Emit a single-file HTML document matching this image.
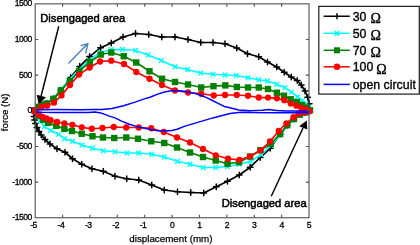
<!DOCTYPE html>
<html lang="en"><head><meta charset="utf-8"><title>force vs displacement</title>
<style>html,body{margin:0;padding:0;background:#fff;}body{width:420px;height:245px;overflow:hidden;}svg{display:block;}text{font-family:"Liberation Sans",sans-serif;fill:#000;}</style>
</head><body>
<svg width="420" height="245" viewBox="0 0 420 245">
<rect x="0" y="0" width="420" height="245" fill="#fff"/>
<g fill="none" stroke-linejoin="round" stroke-linecap="round">
<polyline points="34.50,110.30 38.70,106.90 43.00,104.80 46.80,103.60 53.40,98.90 60.90,90.40 70.60,77.60 79.70,66.40 89.60,56.60 100.60,47.70 111.25,43.00 123.00,37.00 135.50,33.50 148.75,34.50 161.75,37.00 175.00,37.00 188.00,39.50 200.75,42.50 213.00,42.50 225.00,43.75 236.75,48.00 247.50,53.75 258.75,56.75 267.50,62.00 276.75,67.00 284.25,72.25 291.25,77.00 297.25,80.50 301.30,85.00 305.00,91.00 307.70,97.30 309.20,103.70 310.00,110.30 310.00,110.60 305.50,112.40 299.80,114.50 293.90,119.00 287.20,125.20 280.10,134.20 270.20,148.30 260.20,157.50 250.20,167.20 239.25,175.00 227.50,181.25 216.25,186.75 203.75,193.00 190.75,192.50 177.50,191.75 164.25,190.00 151.75,185.00 138.75,180.00 126.75,178.75 115.00,176.25 103.25,171.25 92.00,168.75 81.75,164.25 72.50,158.75 65.00,152.25 57.00,148.75 50.00,144.00 45.00,139.50 41.25,135.00 39.00,131.50 36.90,127.40 35.50,123.50 34.60,120.00 34.00,116.40 34.50,110.60" stroke="#000" stroke-width="1.7"/>
<path d="M35.90 106.90h5.6M38.70 104.10v5.6M40.20 104.80h5.6M43.00 102.00v5.6M44.00 103.60h5.6M46.80 100.80v5.6M50.60 98.90h5.6M53.40 96.10v5.6M58.10 90.40h5.6M60.90 87.60v5.6M67.80 77.60h5.6M70.60 74.80v5.6M76.90 66.40h5.6M79.70 63.60v5.6M86.80 56.60h5.6M89.60 53.80v5.6M97.80 47.70h5.6M100.60 44.90v5.6M108.45 43.00h5.6M111.25 40.20v5.6M120.20 37.00h5.6M123.00 34.20v5.6M132.70 33.50h5.6M135.50 30.70v5.6M145.95 34.50h5.6M148.75 31.70v5.6M158.95 37.00h5.6M161.75 34.20v5.6M172.20 37.00h5.6M175.00 34.20v5.6M185.20 39.50h5.6M188.00 36.70v5.6M197.95 42.50h5.6M200.75 39.70v5.6M210.20 42.50h5.6M213.00 39.70v5.6M222.20 43.75h5.6M225.00 40.95v5.6M233.95 48.00h5.6M236.75 45.20v5.6M244.70 53.75h5.6M247.50 50.95v5.6M255.95 56.75h5.6M258.75 53.95v5.6M264.70 62.00h5.6M267.50 59.20v5.6M273.95 67.00h5.6M276.75 64.20v5.6M281.45 72.25h5.6M284.25 69.45v5.6M288.45 77.00h5.6M291.25 74.20v5.6M294.45 80.50h5.6M297.25 77.70v5.6M298.50 85.00h5.6M301.30 82.20v5.6M302.20 91.00h5.6M305.00 88.20v5.6M304.90 97.30h5.6M307.70 94.50v5.6M306.40 103.70h5.6M309.20 100.90v5.6M302.70 112.40h5.6M305.50 109.60v5.6M297.00 114.50h5.6M299.80 111.70v5.6M291.10 119.00h5.6M293.90 116.20v5.6M284.40 125.20h5.6M287.20 122.40v5.6M277.30 134.20h5.6M280.10 131.40v5.6M267.40 148.30h5.6M270.20 145.50v5.6M257.40 157.50h5.6M260.20 154.70v5.6M247.40 167.20h5.6M250.20 164.40v5.6M236.45 175.00h5.6M239.25 172.20v5.6M224.70 181.25h5.6M227.50 178.45v5.6M213.45 186.75h5.6M216.25 183.95v5.6M200.95 193.00h5.6M203.75 190.20v5.6M187.95 192.50h5.6M190.75 189.70v5.6M174.70 191.75h5.6M177.50 188.95v5.6M161.45 190.00h5.6M164.25 187.20v5.6M148.95 185.00h5.6M151.75 182.20v5.6M135.95 180.00h5.6M138.75 177.20v5.6M123.95 178.75h5.6M126.75 175.95v5.6M112.20 176.25h5.6M115.00 173.45v5.6M100.45 171.25h5.6M103.25 168.45v5.6M89.20 168.75h5.6M92.00 165.95v5.6M78.95 164.25h5.6M81.75 161.45v5.6M69.70 158.75h5.6M72.50 155.95v5.6M62.20 152.25h5.6M65.00 149.45v5.6M54.20 148.75h5.6M57.00 145.95v5.6M47.20 144.00h5.6M50.00 141.20v5.6M42.20 139.50h5.6M45.00 136.70v5.6M38.45 135.00h5.6M41.25 132.20v5.6M36.20 131.50h5.6M39.00 128.70v5.6M34.10 127.40h5.6M36.90 124.60v5.6M32.70 123.50h5.6M35.50 120.70v5.6M31.80 120.00h5.6M34.60 117.20v5.6M31.20 116.40h5.6M34.00 113.60v5.6" stroke="#000" stroke-width="1.5"/>
<polyline points="34.50,110.30 38.60,106.60 43.00,104.40 46.80,103.20 53.30,98.30 60.80,89.60 69.30,79.80 78.60,69.80 89.00,60.30 100.00,52.50 111.25,49.70 122.50,49.50 135.50,50.50 148.25,55.00 161.25,60.50 175.00,66.75 187.50,69.50 200.75,73.00 213.00,74.25 225.00,75.00 236.25,75.50 248.00,77.75 258.75,79.75 267.50,81.00 276.75,84.25 285.00,87.60 291.40,92.10 297.40,96.80 302.70,100.50 306.00,104.00 308.70,107.50 310.00,110.30 310.00,110.60 305.60,112.60 300.00,114.80 294.20,119.40 287.50,125.60 280.40,134.50 271.50,145.00 261.20,154.80 250.50,161.30 239.25,164.25 227.50,166.50 215.75,167.50 203.25,167.50 190.00,164.25 177.50,161.25 164.25,157.00 151.75,154.25 138.75,153.00 127.00,153.00 115.00,151.75 103.25,150.75 92.50,148.25 82.00,145.00 72.50,141.25 64.50,138.75 58.60,134.30 50.60,130.30 44.30,126.50 40.00,121.00 36.70,115.50 34.50,110.60" stroke="#00ffff" stroke-width="1.7"/>
<path d="M36.70 104.70l3.8 3.8M36.70 108.50l3.8 -3.8M41.10 102.50l3.8 3.8M41.10 106.30l3.8 -3.8M44.90 101.30l3.8 3.8M44.90 105.10l3.8 -3.8M51.40 96.40l3.8 3.8M51.40 100.20l3.8 -3.8M58.90 87.70l3.8 3.8M58.90 91.50l3.8 -3.8M67.40 77.90l3.8 3.8M67.40 81.70l3.8 -3.8M76.70 67.90l3.8 3.8M76.70 71.70l3.8 -3.8M87.10 58.40l3.8 3.8M87.10 62.20l3.8 -3.8M98.10 50.60l3.8 3.8M98.10 54.40l3.8 -3.8M109.35 47.80l3.8 3.8M109.35 51.60l3.8 -3.8M120.60 47.60l3.8 3.8M120.60 51.40l3.8 -3.8M133.60 48.60l3.8 3.8M133.60 52.40l3.8 -3.8M146.35 53.10l3.8 3.8M146.35 56.90l3.8 -3.8M159.35 58.60l3.8 3.8M159.35 62.40l3.8 -3.8M173.10 64.85l3.8 3.8M173.10 68.65l3.8 -3.8M185.60 67.60l3.8 3.8M185.60 71.40l3.8 -3.8M198.85 71.10l3.8 3.8M198.85 74.90l3.8 -3.8M211.10 72.35l3.8 3.8M211.10 76.15l3.8 -3.8M223.10 73.10l3.8 3.8M223.10 76.90l3.8 -3.8M234.35 73.60l3.8 3.8M234.35 77.40l3.8 -3.8M246.10 75.85l3.8 3.8M246.10 79.65l3.8 -3.8M256.85 77.85l3.8 3.8M256.85 81.65l3.8 -3.8M265.60 79.10l3.8 3.8M265.60 82.90l3.8 -3.8M274.85 82.35l3.8 3.8M274.85 86.15l3.8 -3.8M283.10 85.70l3.8 3.8M283.10 89.50l3.8 -3.8M289.50 90.20l3.8 3.8M289.50 94.00l3.8 -3.8M295.50 94.90l3.8 3.8M295.50 98.70l3.8 -3.8M300.80 98.60l3.8 3.8M300.80 102.40l3.8 -3.8M304.10 102.10l3.8 3.8M304.10 105.90l3.8 -3.8M306.80 105.60l3.8 3.8M306.80 109.40l3.8 -3.8M303.70 110.70l3.8 3.8M303.70 114.50l3.8 -3.8M298.10 112.90l3.8 3.8M298.10 116.70l3.8 -3.8M292.30 117.50l3.8 3.8M292.30 121.30l3.8 -3.8M285.60 123.70l3.8 3.8M285.60 127.50l3.8 -3.8M278.50 132.60l3.8 3.8M278.50 136.40l3.8 -3.8M269.60 143.10l3.8 3.8M269.60 146.90l3.8 -3.8M259.30 152.90l3.8 3.8M259.30 156.70l3.8 -3.8M248.60 159.40l3.8 3.8M248.60 163.20l3.8 -3.8M237.35 162.35l3.8 3.8M237.35 166.15l3.8 -3.8M225.60 164.60l3.8 3.8M225.60 168.40l3.8 -3.8M213.85 165.60l3.8 3.8M213.85 169.40l3.8 -3.8M201.35 165.60l3.8 3.8M201.35 169.40l3.8 -3.8M188.10 162.35l3.8 3.8M188.10 166.15l3.8 -3.8M175.60 159.35l3.8 3.8M175.60 163.15l3.8 -3.8M162.35 155.10l3.8 3.8M162.35 158.90l3.8 -3.8M149.85 152.35l3.8 3.8M149.85 156.15l3.8 -3.8M136.85 151.10l3.8 3.8M136.85 154.90l3.8 -3.8M125.10 151.10l3.8 3.8M125.10 154.90l3.8 -3.8M113.10 149.85l3.8 3.8M113.10 153.65l3.8 -3.8M101.35 148.85l3.8 3.8M101.35 152.65l3.8 -3.8M90.60 146.35l3.8 3.8M90.60 150.15l3.8 -3.8M80.10 143.10l3.8 3.8M80.10 146.90l3.8 -3.8M70.60 139.35l3.8 3.8M70.60 143.15l3.8 -3.8M62.60 136.85l3.8 3.8M62.60 140.65l3.8 -3.8M56.70 132.40l3.8 3.8M56.70 136.20l3.8 -3.8M48.70 128.40l3.8 3.8M48.70 132.20l3.8 -3.8M42.40 124.60l3.8 3.8M42.40 128.40l3.8 -3.8M38.10 119.10l3.8 3.8M38.10 122.90l3.8 -3.8M34.80 113.60l3.8 3.8M34.80 117.40l3.8 -3.8" stroke="#00ffff" stroke-width="1.4"/>
</g>
<polyline points="34.50,110.30 38.70,106.90 43.00,104.80 46.80,103.60 53.40,98.90 60.90,90.40 69.80,81.20 79.30,71.00 89.90,62.00 100.75,54.50 111.25,52.50 123.75,56.25 136.25,62.50 149.50,71.25 162.00,78.75 175.00,82.00 188.00,84.50 201.20,87.50 213.50,86.20 225.30,85.40 236.90,87.00 248.00,87.50 258.75,87.50 268.00,89.00 276.90,92.70 284.00,95.70 290.70,99.30 297.10,102.10 302.10,105.00 307.10,107.50 310.00,110.30 310.00,110.60 305.50,112.40 299.80,114.50 293.90,119.00 287.20,125.20 280.10,134.00 270.70,143.70 260.40,150.20 250.10,156.50 239.00,162.20 227.50,163.75 215.75,160.50 203.00,157.00 190.00,152.50 177.00,147.50 164.25,143.00 151.25,141.25 138.00,138.75 126.25,137.50 114.25,138.00 103.00,137.50 92.50,136.25 81.75,133.75 72.00,131.00 64.40,128.80 56.30,125.90 48.00,122.90 43.00,119.70 38.50,115.70 34.50,110.60" fill="none" stroke="#008000" stroke-width="1.7" stroke-linejoin="round"/>
<g fill="#008000">
<rect x="31.30" y="107.10" width="6.4" height="6.4"/>
<rect x="35.50" y="103.70" width="6.4" height="6.4"/>
<rect x="39.80" y="101.60" width="6.4" height="6.4"/>
<rect x="43.60" y="100.40" width="6.4" height="6.4"/>
<rect x="50.20" y="95.70" width="6.4" height="6.4"/>
<rect x="57.70" y="87.20" width="6.4" height="6.4"/>
<rect x="66.60" y="78.00" width="6.4" height="6.4"/>
<rect x="76.10" y="67.80" width="6.4" height="6.4"/>
<rect x="86.70" y="58.80" width="6.4" height="6.4"/>
<rect x="97.55" y="51.30" width="6.4" height="6.4"/>
<rect x="108.05" y="49.30" width="6.4" height="6.4"/>
<rect x="120.55" y="53.05" width="6.4" height="6.4"/>
<rect x="133.05" y="59.30" width="6.4" height="6.4"/>
<rect x="146.30" y="68.05" width="6.4" height="6.4"/>
<rect x="158.80" y="75.55" width="6.4" height="6.4"/>
<rect x="171.80" y="78.80" width="6.4" height="6.4"/>
<rect x="184.80" y="81.30" width="6.4" height="6.4"/>
<rect x="198.00" y="84.30" width="6.4" height="6.4"/>
<rect x="210.30" y="83.00" width="6.4" height="6.4"/>
<rect x="222.10" y="82.20" width="6.4" height="6.4"/>
<rect x="233.70" y="83.80" width="6.4" height="6.4"/>
<rect x="244.80" y="84.30" width="6.4" height="6.4"/>
<rect x="255.55" y="84.30" width="6.4" height="6.4"/>
<rect x="264.80" y="85.80" width="6.4" height="6.4"/>
<rect x="273.70" y="89.50" width="6.4" height="6.4"/>
<rect x="280.80" y="92.50" width="6.4" height="6.4"/>
<rect x="287.50" y="96.10" width="6.4" height="6.4"/>
<rect x="293.90" y="98.90" width="6.4" height="6.4"/>
<rect x="298.90" y="101.80" width="6.4" height="6.4"/>
<rect x="303.90" y="104.30" width="6.4" height="6.4"/>
<rect x="306.80" y="107.10" width="6.4" height="6.4"/>
<rect x="302.30" y="109.20" width="6.4" height="6.4"/>
<rect x="296.60" y="111.30" width="6.4" height="6.4"/>
<rect x="290.70" y="115.80" width="6.4" height="6.4"/>
<rect x="284.00" y="122.00" width="6.4" height="6.4"/>
<rect x="276.90" y="130.80" width="6.4" height="6.4"/>
<rect x="267.50" y="140.50" width="6.4" height="6.4"/>
<rect x="257.20" y="147.00" width="6.4" height="6.4"/>
<rect x="246.90" y="153.30" width="6.4" height="6.4"/>
<rect x="235.80" y="159.00" width="6.4" height="6.4"/>
<rect x="224.30" y="160.55" width="6.4" height="6.4"/>
<rect x="212.55" y="157.30" width="6.4" height="6.4"/>
<rect x="199.80" y="153.80" width="6.4" height="6.4"/>
<rect x="186.80" y="149.30" width="6.4" height="6.4"/>
<rect x="173.80" y="144.30" width="6.4" height="6.4"/>
<rect x="161.05" y="139.80" width="6.4" height="6.4"/>
<rect x="148.05" y="138.05" width="6.4" height="6.4"/>
<rect x="134.80" y="135.55" width="6.4" height="6.4"/>
<rect x="123.05" y="134.30" width="6.4" height="6.4"/>
<rect x="111.05" y="134.80" width="6.4" height="6.4"/>
<rect x="99.80" y="134.30" width="6.4" height="6.4"/>
<rect x="89.30" y="133.05" width="6.4" height="6.4"/>
<rect x="78.55" y="130.55" width="6.4" height="6.4"/>
<rect x="68.80" y="127.80" width="6.4" height="6.4"/>
<rect x="61.20" y="125.60" width="6.4" height="6.4"/>
<rect x="53.10" y="122.70" width="6.4" height="6.4"/>
<rect x="44.80" y="119.70" width="6.4" height="6.4"/>
<rect x="39.80" y="116.50" width="6.4" height="6.4"/>
<rect x="35.30" y="112.50" width="6.4" height="6.4"/>
</g>
<polyline points="34.50,110.20 41.40,107.00 47.10,105.70 54.00,102.70 61.50,95.40 70.00,85.00 79.00,74.60 89.60,67.50 100.00,61.50 111.25,60.70 124.00,64.00 136.25,72.00 149.50,78.75 162.00,85.00 175.00,90.50 188.00,92.50 201.25,93.75 213.75,95.50 225.00,95.00 236.75,95.00 248.00,95.75 258.75,97.50 268.00,97.60 276.90,98.30 284.30,100.20 290.70,103.60 296.40,105.70 301.40,107.90 305.70,109.30 309.30,111.00 309.30,111.40 304.00,112.50 298.60,113.60 293.60,117.10 286.40,123.30 278.70,131.00 270.00,141.50 260.50,150.30 250.00,156.60 239.50,159.80 228.00,158.75 215.75,155.30 203.00,149.00 190.00,142.50 177.00,137.50 163.75,132.00 151.25,128.25 138.75,127.50 126.25,127.50 113.75,127.00 102.50,128.00 91.75,128.75 81.75,127.30 72.40,124.80 64.40,123.30 57.00,122.00 50.60,120.20 46.50,118.50 42.40,116.80 38.30,114.70 34.50,111.70" fill="none" stroke="#ff0000" stroke-width="1.7" stroke-linejoin="round"/>
<g fill="#ff0000">
<circle cx="34.50" cy="110.20" r="3.15"/>
<circle cx="41.40" cy="107.00" r="3.15"/>
<circle cx="47.10" cy="105.70" r="3.15"/>
<circle cx="54.00" cy="102.70" r="3.15"/>
<circle cx="61.50" cy="95.40" r="3.15"/>
<circle cx="70.00" cy="85.00" r="3.15"/>
<circle cx="79.00" cy="74.60" r="3.15"/>
<circle cx="89.60" cy="67.50" r="3.15"/>
<circle cx="100.00" cy="61.50" r="3.15"/>
<circle cx="111.25" cy="60.70" r="3.15"/>
<circle cx="124.00" cy="64.00" r="3.15"/>
<circle cx="136.25" cy="72.00" r="3.15"/>
<circle cx="149.50" cy="78.75" r="3.15"/>
<circle cx="162.00" cy="85.00" r="3.15"/>
<circle cx="175.00" cy="90.50" r="3.15"/>
<circle cx="188.00" cy="92.50" r="3.15"/>
<circle cx="201.25" cy="93.75" r="3.15"/>
<circle cx="213.75" cy="95.50" r="3.15"/>
<circle cx="225.00" cy="95.00" r="3.15"/>
<circle cx="236.75" cy="95.00" r="3.15"/>
<circle cx="248.00" cy="95.75" r="3.15"/>
<circle cx="258.75" cy="97.50" r="3.15"/>
<circle cx="268.00" cy="97.60" r="3.15"/>
<circle cx="276.90" cy="98.30" r="3.15"/>
<circle cx="284.30" cy="100.20" r="3.15"/>
<circle cx="290.70" cy="103.60" r="3.15"/>
<circle cx="296.40" cy="105.70" r="3.15"/>
<circle cx="301.40" cy="107.90" r="3.15"/>
<circle cx="305.70" cy="109.30" r="3.15"/>
<circle cx="309.30" cy="111.00" r="3.15"/>
<circle cx="309.30" cy="111.40" r="3.15"/>
<circle cx="304.00" cy="112.50" r="3.15"/>
<circle cx="298.60" cy="113.60" r="3.15"/>
<circle cx="293.60" cy="117.10" r="3.15"/>
<circle cx="286.40" cy="123.30" r="3.15"/>
<circle cx="278.70" cy="131.00" r="3.15"/>
<circle cx="270.00" cy="141.50" r="3.15"/>
<circle cx="260.50" cy="150.30" r="3.15"/>
<circle cx="250.00" cy="156.60" r="3.15"/>
<circle cx="239.50" cy="159.80" r="3.15"/>
<circle cx="228.00" cy="158.75" r="3.15"/>
<circle cx="215.75" cy="155.30" r="3.15"/>
<circle cx="203.00" cy="149.00" r="3.15"/>
<circle cx="190.00" cy="142.50" r="3.15"/>
<circle cx="177.00" cy="137.50" r="3.15"/>
<circle cx="163.75" cy="132.00" r="3.15"/>
<circle cx="151.25" cy="128.25" r="3.15"/>
<circle cx="138.75" cy="127.50" r="3.15"/>
<circle cx="126.25" cy="127.50" r="3.15"/>
<circle cx="113.75" cy="127.00" r="3.15"/>
<circle cx="102.50" cy="128.00" r="3.15"/>
<circle cx="91.75" cy="128.75" r="3.15"/>
<circle cx="81.75" cy="127.30" r="3.15"/>
<circle cx="72.40" cy="124.80" r="3.15"/>
<circle cx="64.40" cy="123.30" r="3.15"/>
<circle cx="57.00" cy="122.00" r="3.15"/>
<circle cx="50.60" cy="120.20" r="3.15"/>
<circle cx="46.50" cy="118.50" r="3.15"/>
<circle cx="42.40" cy="116.80" r="3.15"/>
<circle cx="38.30" cy="114.70" r="3.15"/>
<circle cx="34.50" cy="111.70" r="3.15"/>
</g>
<polyline points="35.50,110.20 42.00,109.70 55.00,109.60 80.00,109.80 95.00,109.50 102.00,109.60 112.00,108.60 123.60,105.70 135.00,102.10 145.00,98.60 150.00,97.20 157.10,94.40 164.30,92.00 171.40,90.80 178.60,90.70 185.70,91.40 192.90,92.90 200.00,95.00 207.10,97.90 211.40,100.00 218.60,103.60 224.30,106.40 230.00,107.80 238.80,110.10 250.70,110.70 262.60,110.20 268.60,109.50 277.00,110.40 286.40,110.90 302.00,110.90 308.80,111.10 308.80,112.50 302.00,112.70 274.50,112.80 250.70,112.60 241.20,112.30 234.00,112.90 230.00,113.60 227.10,114.30 212.90,117.90 198.60,122.10 184.30,126.40 177.10,129.30 172.10,130.40 165.00,131.10 157.90,130.70 150.70,129.60 143.60,128.10 136.40,126.40 129.30,124.30 122.10,121.40 115.00,117.90 109.30,116.10 100.70,112.90 95.00,111.90 88.00,112.40 55.00,112.40 42.00,112.30 35.50,111.90" fill="none" stroke="#0000ff" stroke-width="1.5" stroke-linejoin="round"/>
<g fill="none" stroke="#505050" stroke-width="1.1">
<rect x="35.2" y="3.85" width="273.80" height="213.90"/>
<path d="M62.58 217.75v-3M62.58 3.85v3M89.96 217.75v-3M89.96 3.85v3M117.34 217.75v-3M117.34 3.85v3M144.72 217.75v-3M144.72 3.85v3M172.10 217.75v-3M172.10 3.85v3M199.48 217.75v-3M199.48 3.85v3M226.86 217.75v-3M226.86 3.85v3M254.24 217.75v-3M254.24 3.85v3M281.62 217.75v-3M281.62 3.85v3M35.2 39.50h3M309.0 39.50h-3M35.2 75.15h3M309.0 75.15h-3M35.2 110.80h3M309.0 110.80h-3M35.2 146.45h3M309.0 146.45h-3M35.2 182.10h3M309.0 182.10h-3"/>
</g>
<g font-size="8.6px" text-anchor="end" letter-spacing="-0.5" stroke="#000" stroke-width="0.3">
<text x="31.8" y="6.25">1500</text>
<text x="31.8" y="41.90">1000</text>
<text x="31.8" y="77.55">500</text>
<text x="31.8" y="113.20">0</text>
<text x="31.8" y="148.85">-500</text>
<text x="31.8" y="184.50">-1000</text>
<text x="31.8" y="220.15">-1500</text>
</g>
<g font-size="8.6px" text-anchor="middle" letter-spacing="-0.5" stroke="#000" stroke-width="0.3">
<text x="33.50" y="228">-5</text>
<text x="60.88" y="228">-4</text>
<text x="88.26" y="228">-3</text>
<text x="115.64" y="228">-2</text>
<text x="143.02" y="228">-1</text>
<text x="172.10" y="228">0</text>
<text x="199.48" y="228">1</text>
<text x="226.86" y="228">2</text>
<text x="254.24" y="228">3</text>
<text x="281.62" y="228">4</text>
<text x="309.00" y="228">5</text>
</g>
<text x="170.9" y="241.6" font-size="9.8px" text-anchor="middle" stroke="#000" stroke-width="0.25">displacement (mm)</text>
<text transform="translate(8.0 112.3) rotate(-90)" font-size="9.7px" text-anchor="middle" stroke="#000" stroke-width="0.25">force (N)</text>
<g font-size="11.15px" fill="#000" stroke="#000" stroke-width="0.5">
<text x="40.3" y="22">Disengaged area</text>
<text x="221.8" y="207">Disengaged area</text>
</g>
<g stroke="#000" stroke-width="1.45" fill="#000">
<line x1="58.75" y1="26.25" x2="41" y2="96.5"/>
<polygon points="38.7,104.3 36.7,94.8 46,97.3" stroke="none"/>
<line x1="271.25" y1="196.25" x2="303" y2="128"/>
<polygon points="306.7,120.4 299.2,126.3 307.3,129.6" stroke="none"/>
</g>
<g stroke="#4a7ebb" stroke-width="1.4" fill="none" stroke-linecap="round" stroke-linejoin="round">
<path d="M68.9 62.9L87.9 43.6M81.2 45.6L87.9 43.6L85.8 52.9"/>
</g>
<rect x="318.8" y="6.35" width="100.5" height="87.75" fill="#fff" stroke="#1a1a1a" stroke-width="1.2"/>
<g fill="none" stroke-width="1.5">
<path d="M323.6 16.2H349.8M337 13.2v6" stroke="#000"/>
<path d="M323.6 33.3H349.8M334.7 30.999999999999996l4.6 4.6M334.7 35.599999999999994l4.6 -4.6" stroke="#00ffff"/>
<path d="M323.6 50.3H349.8" stroke="#008000"/>
<path d="M323.6 66.8H349.8" stroke="#ff0000"/>
<path d="M323.6 84.4H349.8" stroke="#0000ff"/>
</g>
<rect x="334" y="47.3" width="6" height="6" fill="#008000"/>
<circle cx="337" cy="66.8" r="3.2" fill="#ff0000"/>
<g font-size="12.35px" stroke="#000" stroke-width="0.35">
<text x="352.7" y="20.60">30</text>
<text x="370.4" y="23.00" font-size="14px" style="font-family:'Liberation Serif',serif">Ω</text>
<text x="352.7" y="37.70">50</text>
<text x="370.4" y="40.10" font-size="14px" style="font-family:'Liberation Serif',serif">Ω</text>
<text x="352.7" y="54.70">70</text>
<text x="370.4" y="57.10" font-size="14px" style="font-family:'Liberation Serif',serif">Ω</text>
<text x="352.7" y="71.20">100</text>
<text x="376.2" y="73.60" font-size="14px" style="font-family:'Liberation Serif',serif">Ω</text>
<text x="352.7" y="88.60">open circuit</text>
</g>
</svg>
</body></html>
